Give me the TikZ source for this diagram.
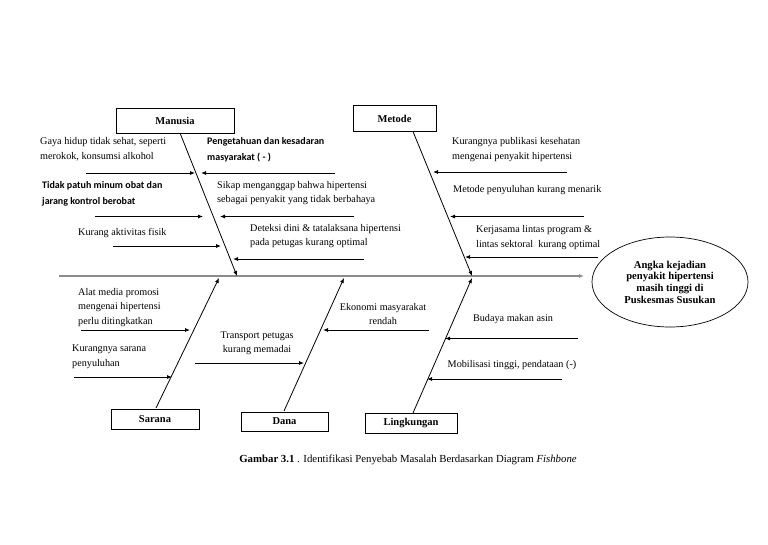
\documentclass[tikz,border=0pt]{standalone}
\usepackage{fontspec}
\setmainfont{Liberation Serif}
\newfontfamily\carlitofont{Carlito}
\usetikzlibrary{arrows.meta,shapes.geometric}
\begin{document}
\begin{tikzpicture}[x=1pt,y=-1pt,
  catbox/.style={draw,line width=0.9pt,inner sep=0pt,font=\fontsize{10.5}{12}\selectfont\bfseries},
  lbl/.style={font=\fontsize{10.2}{14.8}\selectfont,inner sep=0pt,align=left,anchor=west},
  clbl/.style={font=\fontsize{10.2}{14}\selectfont,inner sep=0pt,align=center},
  sanslbl/.style={font=\carlitofont\fontsize{10}{16}\selectfont\bfseries,inner sep=0pt,align=left,anchor=west},
  bone/.style={line width=0.8pt,-{Latex[length=5pt,width=4pt]}},
  rib/.style={line width=0.8pt,-{Latex[length=5pt,width=4pt]}},
  spine/.style={line width=1.2pt,draw=black!45,-{Latex[length=5pt,width=4pt]},shorten >=0pt}]
\useasboundingbox (0,0) rectangle (768,544);
% effect
\node[draw,ellipse,line width=0.7pt,minimum width=156pt,minimum height=90pt,inner sep=0pt,
  font=\fontsize{10.6}{11.6}\selectfont\bfseries,align=center] (eff) at (670,282)
  {Angka kejadian\\penyakit hipertensi\\masih tinggi di\\Puskesmas Susukan};
% spine
\coordinate (sp0) at (59,276);
\coordinate (sp1) at (584,276);
\draw[spine] (sp0) -- (sp1);
% category boxes
\node[catbox,minimum width=118pt,minimum height=25pt] (man) at (175,120.5) {Manusia};
\node[catbox,minimum width=83pt,minimum height=26pt] (met) at (394.5,118.5) {Metode};
\node[catbox,minimum width=88pt,minimum height=20pt] (sar) at (155,419) {Sarana};
\node[catbox,minimum width=87pt,minimum height=19pt] (dan) at (284.5,421.5) {Dana};
\node[catbox,minimum width=92pt,minimum height=20pt] (lin) at (411,423) {Lingkungan};
% bones
\coordinate (manS) at (180,133); \coordinate (manE) at (237,276);
\coordinate (metS) at (413,131.5); \coordinate (metE) at (472,276);
\coordinate (sarS) at (156,408); \coordinate (sarE) at (219,278);
\coordinate (danS) at (284,411); \coordinate (danE) at (344,278);
\coordinate (linS) at (413,413); \coordinate (linE) at (472,278);
\draw[bone] (manS) -- (manE);
\draw[bone] (metS) -- (metE);
\draw[bone] (sarS) -- (sarE);
\draw[bone] (danS) -- (danE);
\draw[bone] (linS) -- (linE);
% Manusia ribs
\coordinate (a1s) at (86,173); \coordinate (a1e) at (195,173);
\coordinate (a2s) at (335,173); \coordinate (a2e) at (201,173);
\coordinate (a3s) at (95,216.5); \coordinate (a3e) at (203,216.5);
\coordinate (a4s) at (354,216.5); \coordinate (a4e) at (220,216.5);
\coordinate (a5s) at (113,246); \coordinate (a5e) at (221,246);
\coordinate (a6s) at (364,259); \coordinate (a6e) at (233,259);
\draw[rib] (a1s) -- (a1e);
\draw[rib] (a2s) -- (a2e);
\draw[rib] (a3s) -- (a3e);
\draw[rib] (a4s) -- (a4e);
\draw[rib] (a5s) -- (a5e);
\draw[rib] (a6s) -- (a6e);
\node[lbl] (t1) at (40,149.5) {Gaya hidup tidak sehat, seperti\\merokok, konsumsi alkohol};
\node[sanslbl] (t2) at (207,150) {Pengetahuan dan kesadaran\\masyarakat ( - )};
\node[sanslbl] (t3) at (42,194) {Tidak patuh minum obat dan\\jarang kontrol berobat};
\node[lbl] (t4) at (217,193) {Sikap menganggap bahwa hipertensi\\sebagai penyakit yang tidak berbahaya};
\node[lbl] (t5) at (78,233) {Kurang aktivitas fisik};
\node[lbl] (t6) at (250,236) {Deteksi dini \& tatalaksana hipertensi\\pada petugas kurang optimal};
% Metode ribs
\coordinate (b1s) at (567,172); \coordinate (b1e) at (433,172);
\coordinate (b2s) at (584,216.5); \coordinate (b2e) at (450,216.5);
\coordinate (b3s) at (598,257); \coordinate (b3e) at (465,257);
\draw[rib] (b1s) -- (b1e);
\draw[rib] (b2s) -- (b2e);
\draw[rib] (b3s) -- (b3e);
\node[lbl] (u1) at (452,149.5) {Kurangnya publikasi kesehatan\\mengenai penyakit hipertensi};
\node[lbl] (u2) at (453,190) {Metode penyuluhan kurang menarik};
\node[lbl] (u3) at (476,237.5) {Kerjasama lintas program \&\\lintas sektoral\ \ kurang optimal};
% Sarana ribs
\coordinate (c1s) at (81,330); \coordinate (c1e) at (190,330);
\coordinate (c2s) at (74,377); \coordinate (c2e) at (172,377);
\draw[rib] (c1s) -- (c1e);
\draw[rib] (c2s) -- (c2e);
\node[lbl] (v1) at (78,307.5) {Alat media promosi\\mengenai hipertensi\\perlu ditingkatkan};
\node[lbl] (v2) at (72,356.5) {Kurangnya sarana\\penyuluhan};
% Dana ribs
\coordinate (d1s) at (195,363); \coordinate (d1e) at (304,363);
\coordinate (d2s) at (429,330); \coordinate (d2e) at (323,330);
\draw[rib] (d1s) -- (d1e);
\draw[rib] (d2s) -- (d2e);
\node[clbl] (w1) at (257,343) {Transport petugas\\kurang memadai};
\node[clbl] (w2) at (383,314) {Ekonomi masyarakat\\rendah};
% Lingkungan ribs
\coordinate (e1s) at (578,338.5); \coordinate (e1e) at (445,338.5);
\coordinate (e2s) at (562,379); \coordinate (e2e) at (427,379);
\draw[rib] (e1s) -- (e1e);
\draw[rib] (e2s) -- (e2e);
\node[clbl] (x1) at (513,319) {Budaya makan asin};
\node[clbl] (x2) at (512,365) {Mobilisasi tinggi, pendataan (-)};
% caption
\node[font=\fontsize{10.8}{12}\selectfont,inner sep=0pt] (cap) at (408,460)
  {\textbf{Gambar 3.1} . Identifikasi Penyebab Masalah Berdasarkan Diagram \textit{Fishbone}};
\end{tikzpicture}
\end{document}
